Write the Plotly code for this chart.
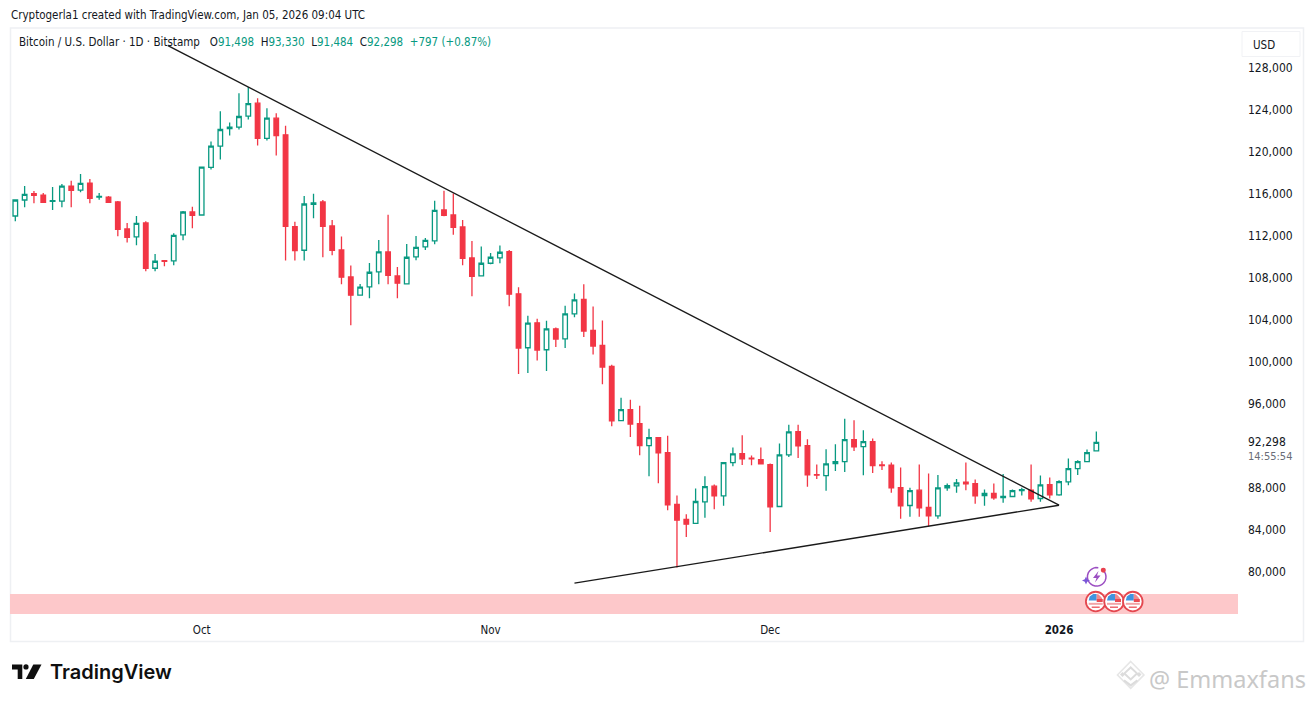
import plotly.graph_objects as go
import pandas as pd

# ---------- data ----------
start_date = "2025-09-11"
opens = [113855,115376,115978,115851,115249,115280,116706,116326,116990,115660,115660,115186,112620,111859,113190,108881,109610,109578,112049,114235,
         113950,118480,120508,122187,122313,123359,124594,121236,123169,121585,112841,110592,114964,115186,112905,110623,108056,106314,107106,108532,
         110432,108152,107391,109957,110908,111478,114424,113949,112808,109862,108152,109355,109862,110464,106441,101309,103685,101118,103114,102164,
         104540,105902,102956,101531,99534,94371,95415,94084,91993,92753,91328,86386,84960,84580,86639,88128,87209,90377,91233,90789,
         90662,90187,86196,91106,93324,91993,89237,89142,90282,90472,92563,91898,92373,90155,90123,88001,86290,87748,86100,85308,
         87969,88159,88507,88381,87241,87431,87051,87145,87716,87748,86955,88286,87304,88539,89807,90472,91498]
highs = [115400,116706,116231,116041,116611,116896,117213,117846,117371,116041,115756,115280,113190,113855,113348,110243,109673,112208,114330,114742,
         118543,120951,123834,122757,125545,126147,125070,124119,123644,122440,113317,115756,115978,115376,113475,111891,109134,107391,109387,111573,
         113981,109007,111193,111953,111763,115311,116262,116008,113474,111478,110939,110337,111034,110623,107074,104350,104065,103875,103241,105300,
         106473,107360,105237,103906,99693,96555,96365,95795,93609,92753,92943,87241,85467,87906,89079,88286,90441,91803,92975,91043,
         91803,90282,92183,93989,93989,92595,90187,91645,92120,94559,94401,93450,92658,90503,90377,89902,87969,90187,89331,89205,
         88381,88824,90377,88761,87811,88381,89300,87811,87969,90187,89141,88951,88698,90757,90599,91612,93330]
lows = [113348,114678,115059,115154,114425,114678,114678,116104,115059,115407,115154,111923,111320,111067,108596,108596,109071,109166,111542,112683,
        113950,118290,119241,121521,122092,123042,120571,121046,119621,109610,109610,109610,113633,109927,110117,107361,103463,106314,106029,107360,
        107360,106029,107391,109640,110623,111161,113822,112080,109165,106219,108152,109260,109355,105269,98806,98901,100105,99091,101372,101277,
        104223,102323,100675,97824,93832,94369,92817,91074,89079,88413,85847,80398,83281,84580,85119,85942,86259,90029,90156,90124,
        90219,83757,86196,90916,90821,88065,88825,87685,89585,89490,91486,89174,89395,89680,87494,85023,85213,85213,84326,85023,
        87684,87494,87748,86449,86258,86829,86543,87114,87241,86639,86639,86955,87209,88223,89205,90440,91484]
closes = [115376,115914,115819,115154,115312,116706,116294,116959,115534,115724,115154,112588,111827,113158,108881,109546,109546,112017,114235,113918,
          118512,120508,122092,122313,123327,124563,121236,123169,121521,112873,110560,114995,115090,112873,110592,108026,106314,107074,108500,110432,
          108215,107455,109926,110876,111541,114392,113917,112777,109831,108120,109355,109926,110401,106409,101277,103653,101087,103114,102132,104540,
          105871,102893,101467,99471,94339,95415,94052,91993,92753,91296,86354,84897,84517,86671,88096,87209,90377,91201,90726,90726,
          90250,86164,91106,93292,91961,89205,89174,90250,90472,92563,91866,92373,90092,90092,87969,86258,87716,86068,85308,87969,
          88191,88444,88349,87209,87431,87019,87145,87716,87811,86924,88254,87304,88571,89807,90472,91327,92298]
trend_down_x = ["2025-09-27 09:00", "2026-01-01 00:00"]
trend_down_y = [130082, 86320]
trend_up_x = ["2025-11-10 00:00", "2026-01-01 00:00"]
trend_up_y = [78900, 86320]
price_ticks = [128000,124000,120000,116000,112000,108000,104000,100000,96000,88000,84000,80000]
month_ticks = ["2025-10-01", "2025-11-01", "2025-12-01", "2026-01-01"]
month_labels = ["Oct", "Nov", "Dec", "<b>2026</b>"]

dates = pd.date_range(start_date, periods=len(closes), freq="D").strftime("%Y-%m-%d").tolist()

# ---------- styles ----------
W, H = 1314, 703
L, R, T, B = 10, 1238, 27.5, 614.5
UP, DOWN, INK = "#089981", "#F23645", "#131722"
FONT = "DejaVu Sans Condensed, DejaVu Sans"
def px(x): return (x - L) / (R - L)
def py(y): return (B - y) / (B - T)

fig = go.Figure()
fig.add_trace(go.Candlestick(
    x=dates, open=opens, high=highs, low=lows, close=closes, whiskerwidth=0,
    increasing=dict(line=dict(color=UP, width=1.3), fillcolor="#ffffff"),
    decreasing=dict(line=dict(color=DOWN, width=1.3), fillcolor=DOWN),
    hoverinfo="skip", showlegend=False))
for tx, ty in ((trend_down_x, trend_down_y), (trend_up_x, trend_up_y)):
    fig.add_trace(go.Scatter(x=tx, y=ty, mode="lines", line=dict(color="#1a1a1a", width=1.4),
                             hoverinfo="skip", showlegend=False, cliponaxis=False))

shapes = []
def rect(x0, y0, x1, y1, fill, line=None, w=0, layer="above"):
    shapes.append(dict(type="rect", xref="paper", yref="paper", x0=px(x0), x1=px(x1), y0=py(y0), y1=py(y1),
                       fillcolor=fill, line=dict(color=line or fill, width=w), layer=layer))
def circ(cx, cy, r, fill, line=None, w=0):
    shapes.append(dict(type="circle", xref="paper", yref="paper", x0=px(cx-r), x1=px(cx+r), y0=py(cy+r), y1=py(cy-r),
                       fillcolor=fill, line=dict(color=line or fill, width=w), layer="above"))
def poly(points, fill=None, line=None, w=0, close=True):
    d = "M " + " L ".join(f"{px(a):.5f},{py(b):.5f}" for a, b in points) + (" Z" if close else "")
    shapes.append(dict(type="path", xref="paper", yref="paper", path=d, fillcolor=fill or "rgba(0,0,0,0)",
                       line=dict(color=line or "rgba(0,0,0,0)", width=w), layer="above"))

# frame, event band, currency box
shapes.append(dict(type="rect", xref="paper", yref="paper", x0=px(10.5), x1=px(1303.5), y0=py(642), y1=py(27.5),
                   line=dict(color="#eef0f3", width=1.5), layer="below"))
rect(10, 594.5, 1238, 614.5, "#fdc8ca", layer="below")
rect(1242, 31, 1300, 56, "#ffffff", "#f1f2f5", 1)

# event icons
import math
for cx in (1095.7, 1114, 1132.8):
    cy = 602
    circ(cx, cy, 9.8, "#ffffff", "#e4474f", 1.8)
    poly([(cx-7, cy-1), (cx-6, cy-5), (cx-2.5, cy-7.5), (cx+1, cy-7.5), (cx+1, cy-1)], "#3f94e0")
    poly([(cx+1, cy-7.5), (cx+3, cy-7), (cx+6.2, cy-3.5), (cx+7, cy-1), (cx+1, cy-1)], "#f08a8e")
    rect(cx+1, cy-2.5, cx+7, cy+0.5, "#ea4a52")
    rect(cx-7, cy+1.3, cx+7, cy+3.3, "#f2a4a7")
    rect(cx-4, cy+5, cx+4, cy+6.4, "#ec5c63")
arc = [(1096.7 + 9.3*math.cos(math.radians(a)), 577.3 + 9.3*math.sin(math.radians(a))) for a in range(-35, 290, 15)]
poly(arc, None, "#9b4ec2", 1.5, close=False)
poly([(1098.5,571.5),(1093,578.5),(1096.5,578.5),(1095,583),(1100.5,576),(1097,576)], "#9b4ec2")
circ(1103.3, 570.7, 2.5, "#e8404f")
poly([(1086,577),(1087.2,579.8),(1090,581),(1087.2,582.2),(1086,585),(1084.8,582.2),(1082,581),(1084.8,579.8)], "#7a55d8")

# TradingView logo
LOGO = "#0f0f0f"
poly([(12,665),(22.3,665),(22.3,679.5),(17.7,679.5),(17.7,670),(12,670)], LOGO)
circ(26, 667.5, 2.6, LOGO)
poly([(33.3,665),(41.5,665),(33.8,679.5),(25.8,679.5)], LOGO)

# watermark diamond logo
WM = "#dcdcdc"
poly([(1130.7,662),(1144,675.5),(1130.7,689),(1117.4,675.5)], None, "#e6e6e6", 1.5)
poly([(1130.7,668),(1137,674),(1130.7,680),(1124.4,674)], None, WM, 2)
poly([(1124,681),(1130.7,686),(1137.4,681)], None, WM, 2, close=False)
poly([(1120,675),(1122.5,672.5),(1125,675),(1122.5,677.5)], WM)
poly([(1136.5,675),(1139,672.5),(1141.5,675),(1139,677.5)], WM)

def note(text, x, y, size, color=INK, anchor="left", family=FONT, weight=None):
    f = dict(size=size, color=color, family=family)
    if weight: f["weight"] = weight
    return dict(text=text, xref="paper", yref="paper", x=px(x), y=py(y), xanchor=anchor, yanchor="middle",
                showarrow=False, font=f, borderpad=0)

v = f'<span style="color:{UP}">'
legend = (f'Bitcoin / U.S. Dollar · 1D · Bitstamp   O{v}91,498</span>  H{v}93,330</span>  '
          f'L{v}91,484</span>  C{v}92,298</span>  {v}+797 (+0.87%)</span>')
annotations = [
    note("Cryptogerla1 created with TradingView.com, Jan 05, 2026 09:04 UTC", 9.5, 14.5, 11.5),
    note(legend, 18, 42, 11.5),
    note("USD", 1251.5, 44.5, 11.5),
    note("92,298", 1247, 442.5, 12),
    note("14:55:54", 1247, 457, 11, "#6a6d78"),
    note("TradingView", 48.5, 673, 20, "#0f0f0f", family="Inter", weight=600),
    note("@ Emmaxfans", 1306.5, 679.5, 23.5, "#c8c8c8", "right", family="Noto Sans"),
]

fig.update_layout(
    width=W, height=H, autosize=False, paper_bgcolor="#ffffff", plot_bgcolor="#ffffff",
    margin=dict(l=L, r=W-R, t=T, b=H-B, pad=0), boxgap=0.3, showlegend=False,
    shapes=shapes, annotations=annotations, hovermode=False, dragmode=False,
    xaxis=dict(type="date", range=["2025-09-10 10:20", "2026-01-20 04:50"], rangeslider=dict(visible=False),
               showgrid=False, zeroline=False, showline=False, ticks="", tickmode="array",
               tickvals=month_ticks, ticktext=month_labels, ticklabelstandoff=7,
               tickfont=dict(size=11.5, color=INK, family=FONT)),
    yaxis=dict(side="right", range=[75960, 131754], showgrid=False, zeroline=False, showline=False, ticks="",
               tickmode="array", tickvals=price_ticks, ticktext=[f"{p:,}" for p in price_ticks],
               ticklabelstandoff=9, tickfont=dict(size=12, color=INK, family=FONT)),
)
fig.write_html("out.html", config=dict(displayModeBar=False),
               post_script="document.body.style.margin='0';document.body.style.overflow='hidden';")
